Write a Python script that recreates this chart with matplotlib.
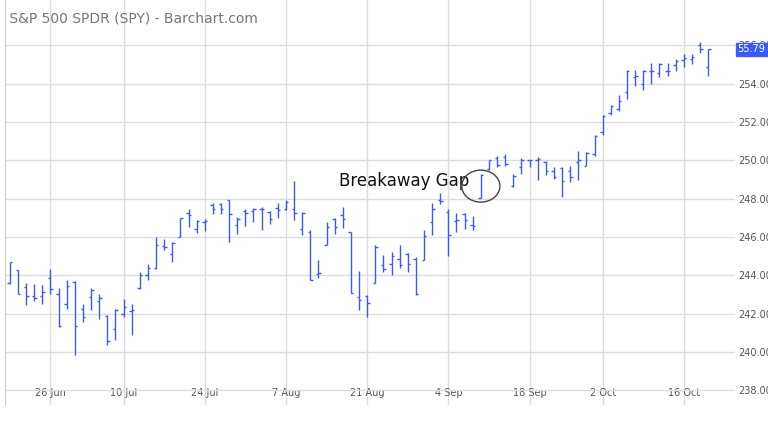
import matplotlib
matplotlib.use("Agg")
import matplotlib.pyplot as plt
from matplotlib.patches import Ellipse

opens = [243.6,244.25,243.4,242.92,242.9,243.88,243.04,242.49,243.65,242.23,242.87,242.63,241.86,241.22,241.97,242.14,
         243.35,244.0,244.4,245.5,245.1,246.0,247.25,246.43,246.78,247.69,247.74,247.95,246.6,247.36,247.36,247.48,
         247.3,247.53,247.48,247.48,246.43,246.26,244.05,245.57,246.96,247.13,246.26,242.87,242.9,243.57,244.52,244.6,
         244.87,245.13,244.87,244.82,246.78,247.9,247.3,246.83,247.18,246.6,248.05,249.56,250.14,250.17,248.64,249.65,
         250.0,250.03,249.9,249.44,249.57,249.44,249.9,249.72,250.35,251.48,252.47,252.66,253.55,254.36,253.96,254.63,
         254.54,254.68,254.98,255.25,255.29,256.0,254.86]
highs = [244.7,244.26,243.57,243.53,243.51,244.35,243.36,243.74,243.7,242.52,243.36,243.0,241.91,242.26,242.78,242.52,
         244.17,244.57,246.0,245.88,245.74,247.0,247.43,246.9,246.96,247.77,247.77,247.95,247.04,247.43,247.5,247.57,
         247.36,247.77,247.9,248.92,247.3,246.35,244.78,246.78,247.0,247.57,246.26,244.2,242.96,245.57,245.04,245.2,
         245.57,245.17,244.96,246.35,247.77,248.3,247.48,247.25,247.25,247.08,249.27,250.03,250.2,250.3,249.3,250.14,
         250.03,250.17,249.97,249.65,249.65,249.69,250.49,250.43,251.3,252.35,252.87,253.38,254.71,254.71,254.71,255.07,
         255.07,255.07,255.29,255.52,255.52,256.18,255.82]
lows = [243.53,243.0,242.43,242.66,242.49,243.04,241.3,242.24,239.85,241.57,242.17,241.72,240.38,240.6,241.8,240.87,
        243.3,243.77,244.35,245.3,244.7,246.0,246.52,246.2,246.3,247.18,247.18,245.74,246.17,246.56,246.78,246.38,
        246.66,247.0,247.4,246.87,246.09,243.74,243.83,245.57,246.17,246.49,243.08,242.2,241.83,243.57,244.17,244.0,
        244.4,244.17,242.96,244.82,246.09,247.74,244.99,246.26,246.43,246.35,248.05,249.51,249.65,249.7,248.6,249.3,
        249.65,248.96,249.22,249.04,248.09,248.87,248.96,249.69,250.2,251.3,252.35,252.57,253.2,253.86,253.68,253.96,
        254.36,254.4,254.68,254.86,255.04,255.6,254.39]
closes = [244.7,243.0,242.94,242.8,243.11,243.3,241.35,243.46,241.36,241.8,243.25,242.8,240.55,242.17,242.35,242.17,
          244.0,244.4,245.57,245.45,245.7,247.0,247.13,246.83,246.82,247.43,247.43,247.18,246.96,247.25,247.48,247.43,
          246.96,247.4,247.83,247.25,247.25,243.74,244.12,246.52,246.52,246.96,243.08,242.73,242.56,245.48,244.35,245.0,
          244.52,244.57,243.0,246.04,247.48,247.87,246.09,246.87,246.87,246.56,249.22,250.0,249.74,249.8,249.17,250.03,
          250.03,250.07,249.44,249.13,248.92,249.13,250.03,250.38,251.25,252.3,252.82,253.1,254.68,254.4,254.66,254.63,
          255.04,254.68,255.16,255.34,255.39,255.82,255.79]
tick_pos = [5, 14, 24, 34, 44, 54, 64, 73, 83]
tick_labels = ["26 Jun", "10 Jul", "24 Jul", "7 Aug", "21 Aug", "4 Sep", "18 Sep", "2 Oct", "16 Oct"]
y_ticks = [238, 240, 242, 244, 246, 248, 250, 252, 254, 256]

blue = "#3a5cf5"
fig = plt.figure(figsize=(7.68, 4.32), dpi=100)
ax = fig.add_axes([5/768, 27/432, 730/768, 405/432])
x = list(range(len(opens)))
ax.vlines(x, lows, highs, color=blue, lw=1.0, zorder=3)
ax.hlines(opens, [i - 0.3 for i in x], x, color=blue, lw=1.0, zorder=3)
ax.hlines(closes, x, [i + 0.3 for i in x], color=blue, lw=1.0, zorder=3)

ax.set_xlim(-0.6, 89.3)
ax.set_ylim(237.23, 258.36)
ax.set_xticks(tick_pos)
ax.set_xticklabels(tick_labels)
ax.set_yticks(y_ticks)
ax.set_yticklabels([f"{v:.2f}" for v in y_ticks])
ax.yaxis.tick_right()
ax.tick_params(length=0, labelsize=7, colors="#555555")
ax.tick_params(axis="y", pad=2)
ax.tick_params(axis="x", pad=-12)
ax.grid(True, color="#dddddd", lw=1)
for s in ["top", "bottom", "right"]:
    ax.spines[s].set_visible(False)
ax.spines["left"].set_color("#cccccc")

ax.text(0.0, 0.955, " S&P 500 SPDR (SPY) - Barchart.com", transform=ax.transAxes,
        fontsize=10, color="#777777", va="center", ha="left")
ax.text(48.5, 248.9, "Breakaway Gap", fontsize=12, color="#111111", ha="center", va="center")
ax.add_patch(Ellipse((58, 248.65), 4.7, 1.67, fill=False, ec="#444444", lw=1, zorder=4))
ax.text(1.003, closes[-1], "55.79", transform=ax.get_yaxis_transform(), fontsize=7,
        color="white", va="center", ha="left",
        bbox=dict(boxstyle="square,pad=0.15", fc=blue, ec=blue), zorder=5)
fig.savefig("out.png", dpi=100)
